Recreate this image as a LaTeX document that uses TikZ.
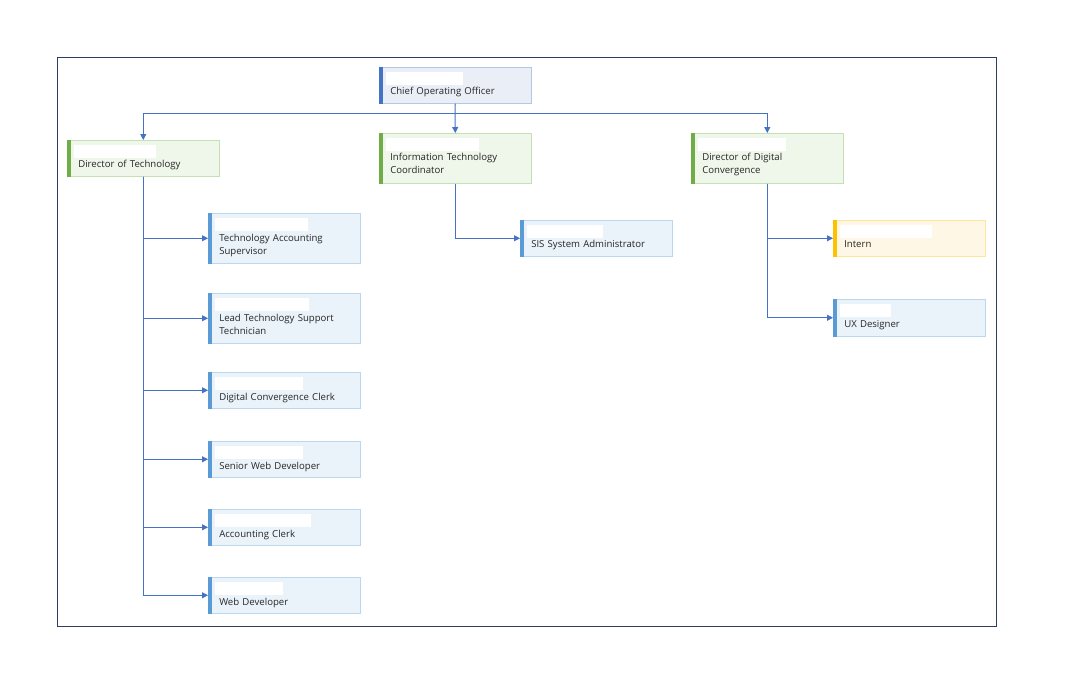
\documentclass[tikz,border=0pt]{standalone}
\usepackage{fontspec}
\setmainfont{Open Sans}
\usetikzlibrary{arrows.meta,positioning}
\definecolor{linkBlue}{RGB}{68,114,196}
\definecolor{frameNavy}{RGB}{44,62,100}
\definecolor{txtGray}{RGB}{38,38,38}
\definecolor{cooBar}{RGB}{68,114,196}
\definecolor{cooFill}{RGB}{233,238,247}
\definecolor{cooLine}{RGB}{180,199,231}
\definecolor{dirBar}{RGB}{112,173,71}
\definecolor{dirFill}{RGB}{239,246,234}
\definecolor{dirLine}{RGB}{197,224,180}
\definecolor{staffBar}{RGB}{91,155,213}
\definecolor{staffFill}{RGB}{235,243,250}
\definecolor{staffLine}{RGB}{189,215,238}
\definecolor{internBar}{RGB}{255,192,0}
\definecolor{internFill}{RGB}{255,247,230}
\definecolor{internLine}{RGB}{255,230,153}
\tikzset{
  orgbox/.style={rectangle, draw, inner sep=0pt, anchor=north west,
    minimum width=114pt, minimum height=27pt},
  tall/.style={minimum height=37.5pt},
  cooBox/.style={orgbox, draw=cooLine, fill=cooFill},
  dirBox/.style={orgbox, draw=dirLine, fill=dirFill},
  staffBox/.style={orgbox, draw=staffLine, fill=staffFill},
  internBox/.style={orgbox, draw=internLine, fill=internFill},
  boxText/.style={anchor=base west, inner sep=0pt, text width=108pt, align=left,
    font=\fontsize{7.2}{9.75}\selectfont, text=txtGray},
  link/.style={draw=linkBlue, line width=0.75pt},
  arrow/.style={link, -{Triangle[length=4.5pt,width=4.5pt]}}
}
\begin{document}
\begin{tikzpicture}[x=0.75pt,y=-0.75pt]
  \useasboundingbox (0,0) rectangle (1070,678);
  % Outer frame
  \draw[frameNavy, line width=0.75pt] (57,57) rectangle (996,626);
  % Boxes
  \node[cooBox] (coo) at (379,67) {};
  \node[dirBox] (dot) at (67,140) {};
  \node[dirBox, tall] (itc) at (379,133) {};
  \node[dirBox, tall] (ddc) at (691,133) {};
  \node[staffBox, tall] (tas) at (208,213) {};
  \node[staffBox, tall] (ltst) at (208,293) {};
  \node[staffBox] (dcc) at (208,372) {};
  \node[staffBox] (swd) at (208,441) {};
  \node[staffBox] (ac) at (208,509) {};
  \node[staffBox] (wd) at (208,577) {};
  \node[staffBox] (sis) at (520,220) {};
  \node[internBox] (intern) at (833,220) {};
  \node[staffBox, minimum height=27.75pt] (ux) at (833,299) {};
  % Accent bars
  \foreach \n/\c in {coo/cooBar, dot/dirBar, itc/dirBar, ddc/dirBar,
      tas/staffBar, ltst/staffBar, dcc/staffBar, swd/staffBar, ac/staffBar,
      wd/staffBar, sis/staffBar, intern/internBar, ux/staffBar}
    \fill[\c] (\n.north west) rectangle ([xshift=3pt]\n.south west);
  % Blank name fields
  \foreach \n/\w in {coo/77, dot/82, itc/93, ddc/88, tas/93, ltst/94, dcc/88,
      swd/88, ac/96, wd/68, sis/76, intern/92, ux/51}
    \fill[white] ([shift={(7,5)}]\n.north west) rectangle +(\w,13);
  % Titles
  \node[boxText] (coo-t) at ([shift={(11,27.5)}]coo.north west) {Chief Operating Officer};
  \node[boxText] (dot-t) at ([shift={(11,27.5)}]dot.north west) {Director of Technology};
  \node[boxText] (itc-t) at ([shift={(11,27.5)}]itc.north west) {Information Technology\\Coordinator};
  \node[boxText] (ddc-t) at ([shift={(11,27.5)}]ddc.north west) {Director of Digital\\Convergence};
  \node[boxText] (tas-t) at ([shift={(11,28.5)}]tas.north west) {Technology Accounting\\Supervisor};
  \node[boxText] (ltst-t) at ([shift={(11,28.5)}]ltst.north west) {Lead Technology Support\\Technician};
  \node[boxText] (dcc-t) at ([shift={(11,28)}]dcc.north west) {Digital Convergence Clerk};
  \node[boxText] (swd-t) at ([shift={(11,28)}]swd.north west) {Senior Web Developer};
  \node[boxText] (ac-t) at ([shift={(11,28)}]ac.north west) {Accounting Clerk};
  \node[boxText] (wd-t) at ([shift={(11,28)}]wd.north west) {Web Developer};
  \node[boxText] (sis-t) at ([shift={(11,27.5)}]sis.north west) {SIS System Administrator};
  \node[boxText] (intern-t) at ([shift={(11,27.5)}]intern.north west) {Intern};
  \node[boxText] (ux-t) at ([shift={(11,28)}]ux.north west) {UX Designer};
  % Reporting lines
  \coordinate (bus) at (455,113);
  \draw[link] (coo.south) -- (bus);
  \draw[arrow] (bus) -| (dot.north);
  \draw[arrow] (bus) -- (itc.north);
  \draw[arrow] (bus) -| (ddc.north);
  \foreach \n in {tas, ltst, dcc, swd, ac, wd}
    \draw[arrow] (dot.south) |- (\n.west);
  \draw[arrow] (itc.south) |- (sis.west);
  \draw[arrow] (ddc.south) |- (intern.west);
  \draw[arrow] (ddc.south) |- (ux.west);
\end{tikzpicture}
\end{document}
